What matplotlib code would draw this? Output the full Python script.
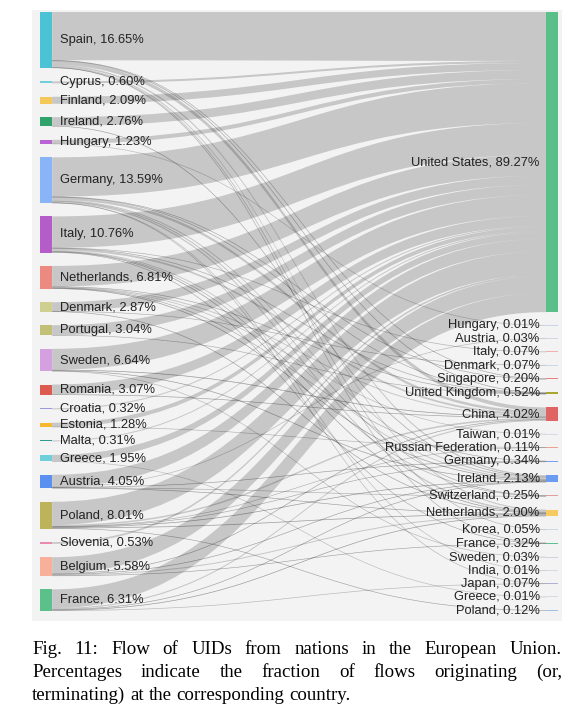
import numpy as np
import matplotlib
matplotlib.use('Agg')
import matplotlib.pyplot as plt
from matplotlib.path import Path
from matplotlib.patches import PathPatch, Rectangle

# Nodos de origen (UE)
left_names = ['Spain', 'Cyprus', 'Finland', 'Ireland', 'Hungary', 'Germany', 'Italy',
              'Netherlands', 'Denmark', 'Portugal', 'Sweden', 'Romania', 'Croatia',
              'Estonia', 'Malta', 'Greece', 'Austria', 'Poland', 'Slovenia',
              'Belgium', 'France']
left_pct = [16.65, 0.60, 2.09, 2.76, 1.23, 13.59, 10.76, 6.81, 2.87, 3.04, 6.64,
            3.07, 0.32, 1.28, 0.31, 1.95, 4.05, 8.01, 0.53, 5.58, 6.31]
left_colors = ['#4cc3d4', '#6fd0dc', '#f5c85a', '#2fa36b', '#b864d4', '#8ab4f8',
               '#b45cc8', '#ec8a82', '#cfcf8f', '#c2c077', '#d5a0df', '#dd5a4e',
               '#9999dd', '#f5b830', '#2a9d8f', '#6fd0dc', '#5b8ff0', '#bdb35a',
               '#e98bb0', '#f9b09a', '#5cc08a']

# Nodos de destino
right_names = ['United States', 'Hungary', 'Austria', 'Italy', 'Denmark', 'Singapore',
               'United Kingdom', 'China', 'Taiwan', 'Russian Federation', 'Germany',
               'Ireland', 'Switzerland', 'Netherlands', 'Korea', 'France', 'Sweden',
               'India', 'Japan', 'Greece', 'Poland']
right_pct = [89.27, 0.01, 0.03, 0.07, 0.07, 0.20, 0.52, 4.02, 0.01, 0.11, 0.34,
             2.13, 0.25, 2.00, 0.05, 0.32, 0.03, 0.01, 0.07, 0.01, 0.12]
right_colors = ['#5bbf8a', '#c8d4e8', '#d4d4e4', '#f0b0b0', '#c8d8e8', '#e88080',
                '#a8a830', '#e06464', '#d8d8e8', '#f0a090', '#7aa0f0', '#6b9cf2',
                '#e0a0a0', '#f5cb62', '#d0d8e0', '#5fc08f', '#d0d0e0', '#d8d8e0',
                '#b0b0d0', '#d8d8e0', '#a0c0e0']

# Flujos hacia destinos distintos de United States (origen, destino, valor)
other_flows = [
    ('Spain', 'China', 1.10), ('Germany', 'China', 0.75), ('Italy', 'China', 0.55),
    ('Poland', 'China', 0.45), ('France', 'China', 0.35), ('Netherlands', 'China', 0.30),
    ('Sweden', 'China', 0.22), ('Belgium', 'China', 0.15), ('Romania', 'China', 0.15),
    ('Spain', 'Ireland', 0.45), ('Germany', 'Ireland', 0.35), ('Italy', 'Ireland', 0.30),
    ('Netherlands', 'Ireland', 0.20), ('Sweden', 'Ireland', 0.18), ('Poland', 'Ireland', 0.20),
    ('Belgium', 'Ireland', 0.15), ('France', 'Ireland', 0.15), ('Ireland', 'Ireland', 0.15),
    ('Germany', 'Netherlands', 0.45), ('Spain', 'Netherlands', 0.35),
    ('Belgium', 'Netherlands', 0.30), ('Italy', 'Netherlands', 0.20),
    ('France', 'Netherlands', 0.20), ('Poland', 'Netherlands', 0.20),
    ('Austria', 'Netherlands', 0.15), ('Denmark', 'Netherlands', 0.15),
    ('Spain', 'United Kingdom', 0.15), ('Germany', 'United Kingdom', 0.10),
    ('Italy', 'United Kingdom', 0.10), ('Portugal', 'United Kingdom', 0.07),
    ('Netherlands', 'United Kingdom', 0.10),
    ('Austria', 'Germany', 0.15), ('Poland', 'Germany', 0.10), ('Netherlands', 'Germany', 0.09),
    ('Belgium', 'France', 0.12), ('Spain', 'France', 0.10), ('Italy', 'France', 0.10),
    ('Germany', 'Switzerland', 0.10), ('Italy', 'Switzerland', 0.08),
    ('Austria', 'Switzerland', 0.07),
    ('Spain', 'Singapore', 0.10), ('Germany', 'Singapore', 0.10),
    ('Poland', 'Poland', 0.12),
    ('Estonia', 'Russian Federation', 0.05), ('Poland', 'Russian Federation', 0.06),
    ('Italy', 'Italy', 0.07), ('Denmark', 'Denmark', 0.07),
    ('Germany', 'Japan', 0.04), ('France', 'Japan', 0.03),
    ('Spain', 'Korea', 0.05), ('Austria', 'Austria', 0.03), ('Sweden', 'Sweden', 0.03),
    ('Hungary', 'Hungary', 0.01), ('Netherlands', 'Taiwan', 0.01),
    ('Germany', 'India', 0.01), ('Greece', 'Greece', 0.01),
]

caption_lines = ["Fig. 11: Flow of UIDs from nations in the European Union.",
                 "Percentages indicate the fraction of flows originating (or,",
                 "terminating) at the corresponding country."]

# Matriz de flujos
n_l, n_r = len(left_names), len(right_names)
flow = np.zeros((n_l, n_r))
for s, d, v in other_flows:
    flow[left_names.index(s), right_names.index(d)] += v
flow[:, 0] = np.array(left_pct) - flow[:, 1:].sum(axis=1)

pad = 3.98
min_h = 0.3

def stack(sizes, p):
    tops = []
    y = 0.0
    for s in sizes:
        tops.append(y)
        y += s + p
    return np.array(tops)

l_size = flow.sum(axis=1)
r_size = np.maximum(flow.sum(axis=0), right_pct)
# escala de llegada (el nodo destino puede ser algo mayor que la suma de flujos)
r_scale = r_size / flow.sum(axis=0)
l_top = stack(l_size, pad)
pad_r = pad - (r_size.sum() - l_size.sum()) / (n_r - 1)
r_top = stack(r_size, pad_r)
H = l_top[-1] + l_size[-1]

fig = plt.figure(figsize=(5.8, 7.26), dpi=100)
ax = fig.add_axes([32 / 580, (726 - 621) / 726, 530 / 580, 611 / 726])
ax.set_facecolor('#f3f3f4')
ax.set_xlim(0, 1)
ax.set_ylim(H + 3.1, -0.6)
ax.set_xticks([])
ax.set_yticks([])
for sp in ax.spines.values():
    sp.set_visible(False)

xl0, xl1 = 0.015, 0.038
xr0, xr1 = 0.970, 0.9925
xm = (xl1 + xr0) / 2

# Enlaces
for i in range(n_l):
    for j in range(n_r):
        v = flow[i, j]
        if v <= 0:
            continue
        ys = l_top[i] + flow[i, :j].sum()
        yt = r_top[j] + flow[:i, j].sum() * r_scale[j]
        vt = v * r_scale[j]
        verts = [(xl1, ys), (xm, ys), (xm, yt), (xr0, yt),
                 (xr0, yt + vt), (xm, yt + vt), (xm, ys + v), (xl1, ys + v), (xl1, ys)]
        codes = [Path.MOVETO, Path.CURVE4, Path.CURVE4, Path.CURVE4,
                 Path.LINETO, Path.CURVE4, Path.CURVE4, Path.CURVE4, Path.CLOSEPOLY]
        ax.add_patch(PathPatch(Path(verts, codes), facecolor=(0, 0, 0, 0.18),
                               edgecolor='none', lw=0))
        if v < 0.3:
            c0, c1 = ys + v / 2, yt + vt / 2
            p = Path([(xl1, c0), (xm, c0), (xm, c1), (xr0, c1)],
                     [Path.MOVETO, Path.CURVE4, Path.CURVE4, Path.CURVE4])
            ax.add_patch(PathPatch(p, facecolor='none', edgecolor=(0, 0, 0, 0.2), lw=0.5))

# Nodos y etiquetas
lab_font = dict(fontsize=9.3, family=['Liberation Sans', 'DejaVu Sans'], color='#222222')
for i in range(n_l):
    h = max(l_size[i], min_h)
    yc = l_top[i] + l_size[i] / 2
    ax.add_patch(Rectangle((xl0, yc - h / 2), xl1 - xl0, h, facecolor=left_colors[i], lw=0))
    ax.text(0.053, yc, f"{left_names[i]}, {left_pct[i]:.2f}%", ha='left', va='center', **lab_font)
for j in range(n_r):
    h = max(r_size[j], min_h)
    yc = r_top[j] + r_size[j] / 2
    ax.add_patch(Rectangle((xr0, yc - h / 2), xr1 - xr0, h, facecolor=right_colors[j], lw=0))
    ax.text(0.958, yc, f"{right_names[j]}, {right_pct[j]:.2f}%", ha='right', va='center', **lab_font)

# Pie de figura (justificado)
cap_font = dict(fontsize=13.6, family=['Liberation Serif', 'DejaVu Serif'], color='black')
renderer = fig.canvas.get_renderer()
x_left, x_right = 32, 562
baselines = [654, 677, 700]
for k, line in enumerate(caption_lines):
    words = line.split(' ')
    y = 1 - baselines[k] / 726
    texts = [fig.text(0, y, w, ha='left', va='baseline', **cap_font) for w in words]
    widths = [t.get_window_extent(renderer).width for t in texts]
    if k < len(caption_lines) - 1:
        gap = (x_right - x_left - sum(widths)) / (len(words) - 1)
    else:
        sp = fig.text(0, 0, 'a a', **cap_font)
        sp2 = fig.text(0, 0, 'aa', **cap_font)
        gap = sp.get_window_extent(renderer).width - sp2.get_window_extent(renderer).width
        sp.remove()
        sp2.remove()
    x = x_left
    for t, w in zip(texts, widths):
        t.set_x(x / 580)
        x += w + gap

fig.savefig('out.png', dpi=100, facecolor='white')
